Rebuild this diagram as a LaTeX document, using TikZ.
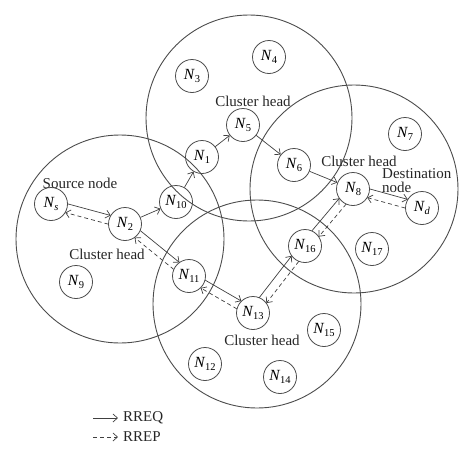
\documentclass[tikz,border=0pt]{standalone}
\usepackage{fontspec}
\setmainfont{Liberation Serif}
\usetikzlibrary{arrows.meta,calc}
\newcommand\Nn[1]{\textit{N}\kern-0.3pt\raisebox{-0.35ex}{\fontsize{10.5}{10.5}\selectfont #1}}
\newcommand\biarrow[2]{%
  \draw[req, pairshort] ($(#1)!4.5pt!90:(#2)$) -- ($(#2)!4.5pt!-90:(#1)$);
  \draw[rep, pairshort] ($(#2)!4.5pt!90:(#1)$) -- ($(#1)!4.5pt!-90:(#2)$);}
\begin{document}
\begin{tikzpicture}[x=1pt,y=-1pt,
  big/.style={circle, draw=black!70, line width=0.9pt, inner sep=0pt},
  nd/.style={circle, draw=black!70, line width=0.8pt, minimum size=33pt, inner sep=0pt, font=\fontsize{15.5}{15.5}\selectfont},
  lbl/.style={font=\fontsize{15}{14}\selectfont, inner sep=0pt, text=black!85},
  req/.style={draw=black!75, line width=0.7pt, -{Straight Barb[length=4.5pt,width=8pt]}},
  rep/.style={req, dash pattern=on 4pt off 3pt},
  pairshort/.style={shorten <=16pt, shorten >=16pt},
  ]
\useasboundingbox (0,0) rectangle (474,461);
% clusters
\node[big, minimum size=206pt] (C1) at (249,118) {};
\node[big, minimum size=208pt] (C2) at (120,239) {};
\node[big, minimum size=208pt] (C3) at (354,189) {};
\node[big, minimum size=208pt] (C4) at (257,304) {};
% nodes
\node[nd] (N3) at (192,76) {\Nn{3}};
\node[nd] (N4) at (269,57) {\Nn{4}};
\node[nd] (N5) at (243,125) {\Nn{5}};
\node[nd] (N1) at (202,157) {\Nn{1}};
\node[nd] (N10) at (176,202) {\Nn{10}};
\node[nd] (Ns) at (51,204) {\Nn{\textit{s}}};
\node[nd] (N2) at (125,224) {\Nn{2}};
\node[nd] (N6) at (294,165) {\Nn{6}};
\node[nd] (N7) at (405,134) {\Nn{7}};
\node[nd] (N8) at (353,189) {\Nn{8}};
\node[nd] (Nd) at (422,208) {\Nn{\textit{d}}};
\node[nd] (N9) at (76,282) {\Nn{9}};
\node[nd] (N11) at (189,276) {\Nn{11}};
\node[nd] (N12) at (205,364) {\Nn{12}};
\node[nd] (N16) at (305,246) {\Nn{16}};
\node[nd] (N17) at (372,249) {\Nn{17}};
\node[nd] (N13) at (253,313) {\Nn{13}};
\node[nd] (N15) at (324,330) {\Nn{15}};
\node[nd] (N14) at (280,377) {\Nn{14}};
% labels
\node[lbl] (Lsrc) at (80,183) {Source node};
\node[lbl] (Lch2) at (107,254) {Cluster head};
\node[lbl] (Lch1) at (253,101) {Cluster head};
\node[lbl] (Lch3) at (359,161) {Cluster head};
\node[lbl] (Lch4) at (262,340) {Cluster head};
\node[lbl, anchor=west, align=left] (Ldst) at (382,181) {Destination\\node};
% single arrows
\draw[req] (N2) -- (N10);
\draw[req] (N10) -- (N1);
\draw[req] (N1) -- (N5);
\draw[req] (N5) -- (N6);
\draw[req] (N6) -- (N8);
% paired arrows
\biarrow{Ns}{N2}
\biarrow{N8}{Nd}
\biarrow{N2}{N11}
\biarrow{N11}{N13}
\biarrow{N13}{N16}
\biarrow{N16}{N8}
% legend
\coordinate (a1) at (93,418);
\coordinate (b1) at (118,418);
\coordinate (a2) at (93,437);
\coordinate (b2) at (118,437);
\draw[req] (a1) -- (b1);
\draw[rep] (a2) -- (b2);
\node[lbl, anchor=west] (RREQ) at (123,418) {RREQ};
\node[lbl, anchor=west] (RREP) at (123,437) {RREP};
\end{tikzpicture}
\end{document}
